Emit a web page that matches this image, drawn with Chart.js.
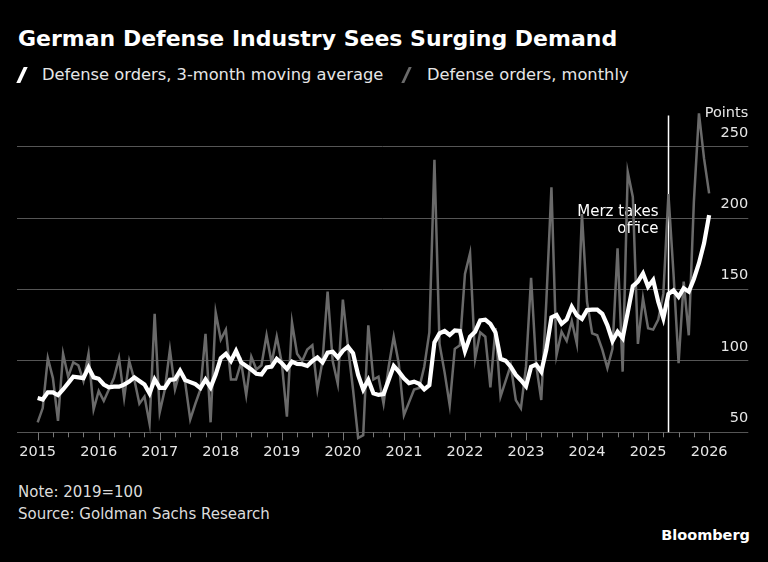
<!DOCTYPE html>
<html><head><meta charset="utf-8">
<script src="https://cdn.jsdelivr.net/npm/chart.js@4.4.1/dist/chart.umd.min.js"></script>
<style>
html,body{margin:0;padding:0;background:#000;width:768px;height:562px;overflow:hidden;}
body{position:relative;font-family:'DejaVu Sans',sans-serif;}
.t{position:absolute;white-space:nowrap;}
#title{left:18px;top:25px;font-size:22px;font-weight:bold;color:#fff;line-height:28px;}
.leg{top:65px;font-size:16.3px;line-height:20px;color:#e6e6e6;}
.sw{position:absolute;top:67px;width:4px;height:16px;transform:skewX(-25deg);}
.note{font-size:15px;line-height:20px;color:#dcdcdc;left:18px;}
#brand{right:18px;top:525px;font-size:14.5px;font-weight:bold;color:#fff;line-height:20px;}
#c{position:absolute;left:0;top:0;}
</style></head>
<body>
<div id="title" class="t">German Defense Industry Sees Surging Demand</div>
<div class="sw" style="left:20px;background:#fff;"></div>
<div class="t leg" style="left:42px;">Defense orders, 3-month moving average</div>
<div class="sw" style="left:405px;background:#6a6a6a;width:3px;"></div>
<div class="t leg" style="left:427px;">Defense orders, monthly</div>
<div class="t note" style="top:482px;">Note: 2019=100</div>
<div class="t note" style="top:504px;">Source: Goldman Sachs Research</div>
<div id="brand" class="t">Bloomberg</div>
<canvas id="c" width="768" height="562"></canvas>
<script>
// ---- data ----
const months = [];
for (let y = 2015; y <= 2025; y++) for (let m = 1; m <= 12; m++) months.push(y + '-' + String(m).padStart(2, '0'));
months.push('2026-01');

const monthly = [
  57, 67, 102, 88, 58, 105, 89, 99, 97, 86, 105, 66,
  79, 72, 80, 88, 102, 74, 100, 87, 70, 75, 56, 133,
  64, 80, 108, 80, 93, 85, 59, 70, 80, 119, 57, 134,
  115, 122, 87, 87, 99, 76, 103, 94, 97, 118, 98.5, 117,
  98.5, 61, 127, 105, 100, 108, 111, 80, 100, 148.6, 100, 84,
  143, 110, 80, 46, 48, 125, 87, 89, 70, 96, 117, 98,
  62, 71, 80, 81, 96, 120, 241, 112, 92, 69, 108.5, 111,
  161, 175.5, 101.5, 120, 117, 81.5, 123, 75, 86, 97, 72.6, 66.8,
  96, 158.3, 97, 72.6, 142, 221.7, 104, 120.5, 114, 128, 112, 203,
  141.5, 119.4, 118, 108, 95, 108.5, 179, 92.5, 232.5, 215, 112, 144,
  123, 122, 129, 147, 217, 161, 98.4, 155.6, 118, 211.5, 273.6, 242,
  217.5
];

const movingAvg = [
  74, 73, 78, 78, 76, 80, 84.5, 89, 88.5, 88, 95.5, 88.5,
  87.5, 83.5, 81.5, 82, 82, 83.4, 85.5, 88.5, 86, 83.5, 77.2, 87.1,
  81.2, 81.2, 86.8, 87.2, 93.2, 86.6, 85.2, 83.8, 81, 87, 81.5, 90.5,
  102, 105, 100, 107, 99, 96.5, 94, 91, 90.5, 95.5, 96, 101.5,
  98.4, 94.5, 99.5, 98, 97.7, 96.5, 100, 102.5, 99, 105.8, 106.5, 102.5,
  107.2, 110, 105.4, 90.2, 80, 86.7, 77.3, 76.2, 76.8, 86.7, 96.5, 92.5,
  87.8, 84.5, 85.5, 84, 80.1, 83, 113, 119.4, 121, 118.2, 121.4, 121,
  107, 117, 120.5, 128.5, 129, 126, 120, 101.5, 100.2, 96, 90.2, 86.5,
  82.2, 96, 97.5, 92.5, 108, 130.5, 132.2, 126, 129, 138, 132, 129.5,
  135.7, 136, 136, 133, 125, 114, 120.5, 116, 134, 152.5, 155.6, 161.4,
  152, 156.7, 141.5, 130, 147, 149.5, 145, 151, 148.6, 157.5, 168.5, 182.5,
  202.3
];

const yTicks = [50, 100, 150, 200, 250];
const xYears = [2015, 2016, 2017, 2018, 2019, 2020, 2021, 2022, 2023, 2024, 2025, 2026];
const merzMonth = '2025-05';
const merzLabel = ['Merz takes', 'office'];
const yUnit = 'Points';

// ---- helpers ----
const toX = s => { const [y, m] = s.split('-').map(Number); return y + (m - 1) / 12; };
const FONT = "'DejaVu Sans', sans-serif";

const decor = {
  id: 'decor',
  beforeDatasetsDraw(chart) {
    const { ctx, chartArea: a, scales: { x, y } } = chart;
    ctx.save();
    // quarterly ticks on the x axis
    ctx.strokeStyle = '#777';
    ctx.lineWidth = 1;
    const first = xYears[0], last = xYears[xYears.length - 1];
    for (let q = 0; q <= (last - first) * 4; q++) {
      const px = Math.round(x.getPixelForValue(first + q / 4)) + 0.5;
      const len = q % 4 === 0 ? 8 : 5;
      ctx.beginPath(); ctx.moveTo(px, a.bottom); ctx.lineTo(px, a.bottom + len); ctx.stroke();
    }
    // year labels
    ctx.fillStyle = '#e6e6e6';
    ctx.font = '14.5px ' + FONT;
    ctx.textAlign = 'center'; ctx.textBaseline = 'middle';
    xYears.forEach(yr => ctx.fillText(String(yr), x.getPixelForValue(yr), a.bottom + 20));
    // y labels above grid lines
    ctx.textAlign = 'right';
    yTicks.forEach(v => ctx.fillText(String(v), a.right, y.getPixelForValue(v) - 14));
    ctx.fillText(yUnit, a.right, y.getPixelForValue(250) - 34);
    // Merz line
    const mx = Math.round(x.getPixelForValue(toX(merzMonth))) + 0.5;
    ctx.strokeStyle = '#fff'; ctx.lineWidth = 1.5;
    ctx.beginPath(); ctx.moveTo(mx, y.getPixelForValue(272)); ctx.lineTo(mx, a.bottom); ctx.stroke();
    ctx.fillStyle = '#fff';
    ctx.font = '15px ' + FONT;
    ctx.textAlign = 'right';
    merzLabel.forEach((t, i) => ctx.fillText(t, mx - 10, y.getPixelForValue(204) + i * 16.5));
    ctx.restore();
  }
};

new Chart(document.getElementById('c'), {
  type: 'line',
  data: {
    datasets: [
      {
        label: 'Defense orders, 3-month moving average',
        data: months.map((m, i) => ({ x: toX(m), y: movingAvg[i] })),
        borderColor: '#ffffff', borderWidth: 4.2, pointRadius: 0, tension: 0, order: 0, clip: false
      },
      {
        label: 'Defense orders, monthly',
        data: months.map((m, i) => ({ x: toX(m), y: monthly[i] })),
        borderColor: '#6a6a6a', borderWidth: 2.5, pointRadius: 0, tension: 0, order: 1, clip: false
      }
    ]
  },
  options: {
    responsive: false,
    devicePixelRatio: 1,
    animation: false,
    layout: { padding: { top: 111.3, bottom: 129.7, left: 17.3, right: 19.7 } },
    scales: {
      x: { type: 'linear', min: 2015 - 4 / 12, max: 2015 + 139.7 / 12, display: false },
      y: {
        type: 'linear', min: 50, max: 275, display: true,
        afterBuildTicks: s => { s.ticks = yTicks.map(v => ({ value: v })); },
        afterFit: s => { s.width = 0; },
        ticks: { display: false },
        border: { display: false },
        grid: { color: '#555', lineWidth: 1, drawTicks: false }
      }
    },
    plugins: { legend: { display: false }, tooltip: { enabled: false } }
  },
  plugins: [decor]
});
</script>
</body></html>
